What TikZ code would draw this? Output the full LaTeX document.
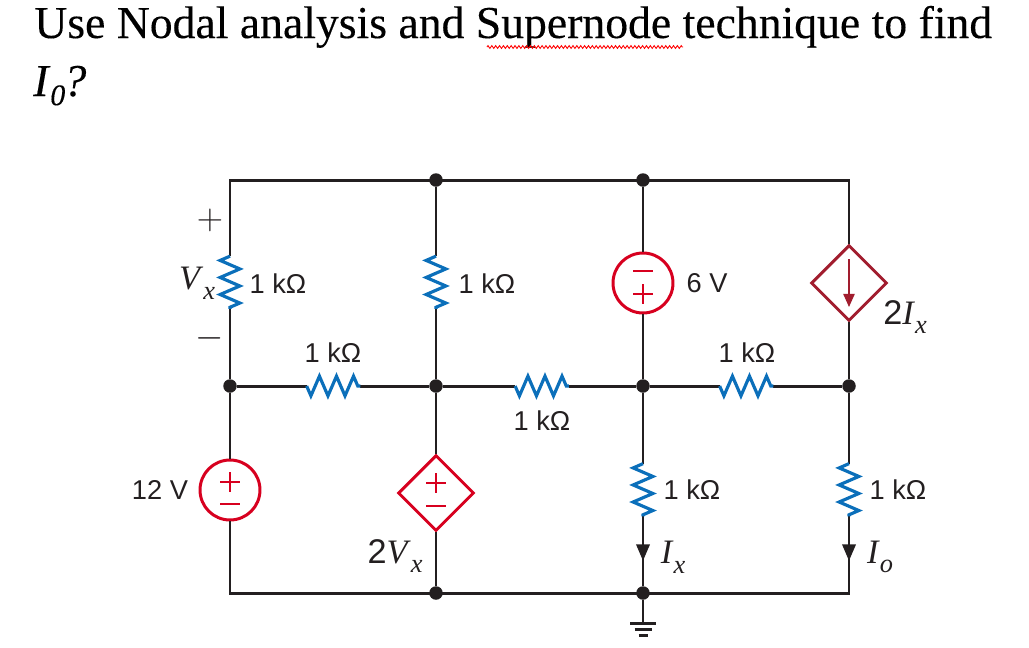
\documentclass[tikz,border=0pt]{standalone}
\usepackage{fontspec}
\setmainfont{Liberation Serif}
\setsansfont{Liberation Sans}
\usetikzlibrary{calc,arrows.meta,decorations.pathmorphing,shapes.geometric}

\definecolor{wirecol}{HTML}{231F20}
\definecolor{srcred}{HTML}{D7001F}
\definecolor{depred}{HTML}{A11D2E}
\definecolor{resblue}{HTML}{0B6FBA}

\newcommand{\subvar}[2]{\textit{#1}\raisebox{-0.28em}{\fontsize{15}{15}\selectfont\textit{#2}}}
\newcommand{\kohm}{1 k\char"03A9\relax}

\tikzset{
    wire/.style={line width=1.7pt,color=wirecol},
    dot/.style={circle,fill=wirecol,inner sep=0pt,minimum size=0.27cm},
    resv/.style={inner sep=0pt,minimum width=0.4cm,minimum height=1.04cm},
    resh/.style={inner sep=0pt,minimum width=1.06cm,minimum height=0.4cm},
    zig/.style={line width=1.8pt,color=resblue,decorate,decoration={zigzag,mirror,segment length=9.7pt,amplitude=5.6pt}},
    srcv/.style={circle,draw=srcred,fill=white,line width=1.7pt,inner sep=0pt,minimum size=1.2cm},
    depv/.style={diamond,draw=srcred,fill=white,line width=1.7pt,inner sep=0pt,minimum size=1.52cm},
    depi/.style={diamond,draw=depred,fill=white,line width=1.7pt,inner sep=0pt,minimum size=1.52cm},
    sign/.style={line width=0.8pt,color=srcred},
    ohm/.style={font=\sffamily\fontsize{15.5}{15.5}\selectfont,color=wirecol,inner sep=0pt},
    var/.style={font=\fontsize{19.5}{19.5}\selectfont,color=wirecol,inner sep=0pt},
    title/.style={font=\fontsize{26}{26}\selectfont\addfontfeature{FakeBold=0.25},anchor=base west,inner sep=0pt},
    flow/.style={-{Triangle[length=9.5pt,width=7.5pt]}},
}

\begin{document}
\begin{tikzpicture}[x=0.02cm,y=-0.02cm]
\useasboundingbox (0,0) rectangle (1029,647);
% question text
\node [title] (line1) at (34,38) {Use Nodal analysis and Supernode technique to find};
\node [title] (line2) at (33,96) {\textit{I}\raisebox{-0.2em}{\fontsize{17}{17}\selectfont\textit{0}}\kern-1pt\textit{?}};
\draw [red,line width=0.5pt,decorate,decoration={zigzag,segment length=2.2pt,amplitude=0.8pt}] (487,47) -- (683,47);
% corners and junctions
\coordinate (tl) at (230,180);
\coordinate (tr) at (849,180);
\coordinate (bl) at (230,593);
\coordinate (br) at (849,593);
\coordinate (gnd) at (643,623);
\coordinate (gnda) at (643,561);
\coordinate (gndb) at (849,561);
\node [dot] (t2) at (436,180) {};
\node [dot] (t3) at (643,180) {};
\node [dot] (m1) at (230,386) {};
\node [dot] (m2) at (436,386) {};
\node [dot] (m3) at (643,386) {};
\node [dot] (m4) at (849,386) {};
\node [dot] (b2) at (436,593) {};
\node [dot] (b3) at (643,593) {};
% resistors and sources
\node [resv] (r1) at (230,282.5) {};
\node [resv] (r2) at (436,282.5) {};
\node [resv] (r3) at (643,490) {};
\node [resv] (r4) at (849,490) {};
\node [resh] (r5) at (333.5,386) {};
\node [resh] (r6) at (542,386) {};
\node [resh] (r7) at (746.5,386) {};
\node [srcv] (vs1) at (230,490) {};
\node [srcv] (vs2) at (643,283) {};
\node [depv] (dv) at (436,493) {};
\node [depi] (di) at (849,283) {};
% wires
\draw [wire] (m1) -- (r1.south);
\draw [wire] (r1.north) -- (tl) -- (t2.center) -- (t3.center) -- (tr) -- (di.north);
\draw [wire] (t2) -- (r2.north);
\draw [wire] (r2.south) -- (m2);
\draw [wire] (t3) -- (vs2.north);
\draw [wire] (vs2.south) -- (m3);
\draw [wire] (di.south) -- (m4);
\draw [wire] (m1) -- (r5.west);
\draw [wire] (r5.east) -- (m2) -- (r6.west);
\draw [wire] (r6.east) -- (m3) -- (r7.west);
\draw [wire] (r7.east) -- (m4);
\draw [wire] (m1) -- (vs1.north);
\draw [wire] (vs1.south) -- (bl) -- (b2.center) -- (b3.center) -- (br) -- (r4.south);
\draw [wire] (m2) -- (dv.north);
\draw [wire] (dv.south) -- (b2);
\draw [wire] (m3) -- (r3.north);
\draw [wire] (m4) -- (r4.north);
\draw [wire] (r3.south) -- (b3);
\draw [wire] (b3) -- (gnd);
\draw [wire,flow] (r3.south) -- (gnda);
\draw [wire,flow] (r4.south) -- (gndb);
% ground bars
\draw [wire] ($(gnd)+(-13,0)$) -- ($(gnd)+(13,0)$);
\draw [wire] ($(gnd)+(-8.5,6)$) -- ($(gnd)+(8.5,6)$);
\draw [wire] ($(gnd)+(-4.5,12)$) -- ($(gnd)+(4.5,12)$);
% resistor zigzags
\draw [zig] (r1.north) -- (r1.south);
\draw [zig] (r2.north) -- (r2.south);
\draw [zig] (r3.north) -- (r3.south);
\draw [zig] (r4.north) -- (r4.south);
\draw [zig] (r5.west) -- (r5.east);
\draw [zig] (r6.west) -- (r6.east);
\draw [zig] (r7.west) -- (r7.east);
% signs inside the sources
\draw [sign] ($(vs1)+(-10,-8)$) -- ($(vs1)+(10,-8)$);
\draw [sign] ($(vs1)+(0,-18)$) -- ($(vs1)+(0,2)$);
\draw [sign] ($(vs1)+(-10,14)$) -- ($(vs1)+(10,14)$);
\draw [sign] ($(vs2)+(-10,-12)$) -- ($(vs2)+(10,-12)$);
\draw [sign] ($(vs2)+(-10,11)$) -- ($(vs2)+(10,11)$);
\draw [sign] ($(vs2)+(0,1)$) -- ($(vs2)+(0,21)$);
\draw [sign] ($(dv)+(-10,-10)$) -- ($(dv)+(10,-10)$);
\draw [sign] ($(dv)+(0,-20)$) -- ($(dv)+(0,0)$);
\draw [sign] ($(dv)+(-10,13)$) -- ($(dv)+(10,13)$);
\draw [line width=0.8pt,color=depred,-{Triangle[length=7.5pt,width=6.5pt]}] ($(di)+(0,-24)$) -- ($(di)+(0,24)$);
% labels
\node [ohm] (l1) at (278,284) {\kohm};
\node [ohm] (l2) at (487,284) {\kohm};
\node [ohm] (l3) at (333,353) {\kohm};
\node [ohm] (l4) at (542,421) {\kohm};
\node [ohm] (l5) at (747,353) {\kohm};
\node [ohm] (l6) at (692,490) {\kohm};
\node [ohm] (l7) at (898,490) {\kohm};
\node [ohm] (l8) at (707,283) {6 V};
\node [ohm] (l9) at (160,490) {12 V};
\node [var] (vp) at (210,220) {$+$};
\node [var] (vm) at (210,338) {$-$};
\node [var] (vx) at (197,283) {\subvar{V}{x}};
\node [var] (dvl) at (395,556) {{\sffamily 2}\subvar{V}{x}};
\node [var] (dil) at (905,317) {{\sffamily 2}\subvar{I}{x}};
\node [var] (ixl) at (673,557) {\subvar{I}{x}};
\node [var] (iol) at (880,557) {\subvar{I}{o}};
\end{tikzpicture}
\end{document}
